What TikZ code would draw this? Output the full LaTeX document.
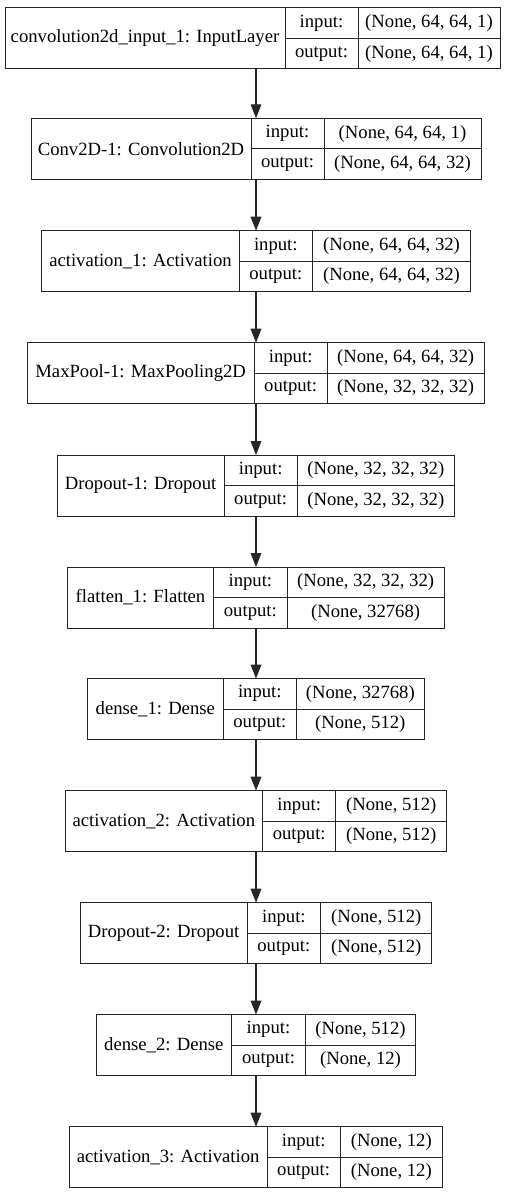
\documentclass[tikz,border=0pt]{standalone}
\usepackage{fontspec}
\setmainfont{Liberation Serif}
\usetikzlibrary{arrows.meta}
\colorlet{edgecol}{black!85}
\newcommand\layerbox[9]{%
  \node[cell, minimum width={(#4-#3)*0.75pt}, minimum height={61*0.75pt}] (#1) at (#3,#2) {#7};
  \node[cell, minimum width={(#5-#4)*0.75pt}, minimum height={30.5*0.75pt}] (#1i) at (#4,#2) {input:};
  \node[cell, minimum width={(#6-#5)*0.75pt}, minimum height={30.5*0.75pt}] (#1iv) at (#5,#2) {#8};
  \node[cell, minimum width={(#5-#4)*0.75pt}, minimum height={30.5*0.75pt}] (#1o) at (#4,#2+30.5) {output:};
  \node[cell, minimum width={(#6-#5)*0.75pt}, minimum height={30.5*0.75pt}] (#1ov) at (#5,#2+30.5) {#9};
}
\begin{document}
\begin{tikzpicture}[x=0.75pt,y=-0.75pt,
  cell/.style={draw=edgecol, line width=0.75pt, anchor=north west, inner sep=0pt, outer sep=0pt,
    font=\fontsize{14}{16}\selectfont, text=black},
  arr/.style={draw=edgecol, fill=black, line width=0.9pt, -{Triangle[length=10.5pt,width=8pt]}}]
\useasboundingbox (0,0) rectangle (512,1195);
\fill[white] (0,0) rectangle (512,1195);
\coordinate (ax) at (256,0);
\layerbox{L1}{8}{5}{285}{358}{500}{convolution2d\_input\_1: InputLayer}{(None, 64, 64, 1)}{(None, 64, 64, 1)}
\layerbox{L2}{118.3}{31}{251}{324}{481}{Conv2D-1: Convolution2D}{(None, 64, 64, 1)}{(None, 64, 64, 32)}
\layerbox{L3}{230.7}{41.7}{239.3}{312.3}{470.7}{activation\_1: Activation}{(None, 64, 64, 32)}{(None, 64, 64, 32)}
\layerbox{L4}{342.7}{27.3}{254}{327.3}{484}{MaxPool-1: MaxPooling2D}{(None, 64, 64, 32)}{(None, 32, 32, 32)}
\layerbox{L5}{455}{57.3}{224}{297.3}{454.3}{Dropout-1: Dropout}{(None, 32, 32, 32)}{(None, 32, 32, 32)}
\layerbox{L6}{567}{67.3}{213.7}{287}{444.3}{flatten\_1: Flatten}{(None, 32, 32, 32)}{(None, 32768)}
\layerbox{L7}{678.5}{87.3}{223.3}{296.3}{424.3}{dense\_1: Dense}{(None, 32768)}{(None, 512)}
\layerbox{L8}{790.7}{65}{262.7}{335.7}{446.7}{activation\_2: Activation}{(None, 512)}{(None, 512)}
\layerbox{L9}{902.7}{80.3}{247}{320.7}{431.7}{Dropout-2: Dropout}{(None, 512)}{(None, 512)}
\layerbox{L10}{1014.5}{96}{231.7}{305.3}{415.7}{dense\_2: Dense}{(None, 512)}{(None, 12)}
\layerbox{L11}{1126.7}{69.3}{267}{340.3}{442.3}{activation\_3: Activation}{(None, 12)}{(None, 12)}
\draw[arr] (L1.south -| ax) -- (L2.north -| ax);
\draw[arr] (L2.south -| ax) -- (L3.north -| ax);
\draw[arr] (L3.south -| ax) -- (L4.north -| ax);
\draw[arr] (L4.south -| ax) -- (L5.north -| ax);
\draw[arr] (L5.south -| ax) -- (L6.north -| ax);
\draw[arr] (L6.south -| ax) -- (L7.north -| ax);
\draw[arr] (L7.south -| ax) -- (L8.north -| ax);
\draw[arr] (L8.south -| ax) -- (L9.north -| ax);
\draw[arr] (L9.south -| ax) -- (L10.north -| ax);
\draw[arr] (L10.south -| ax) -- (L11.north -| ax);
\end{tikzpicture}
\end{document}
